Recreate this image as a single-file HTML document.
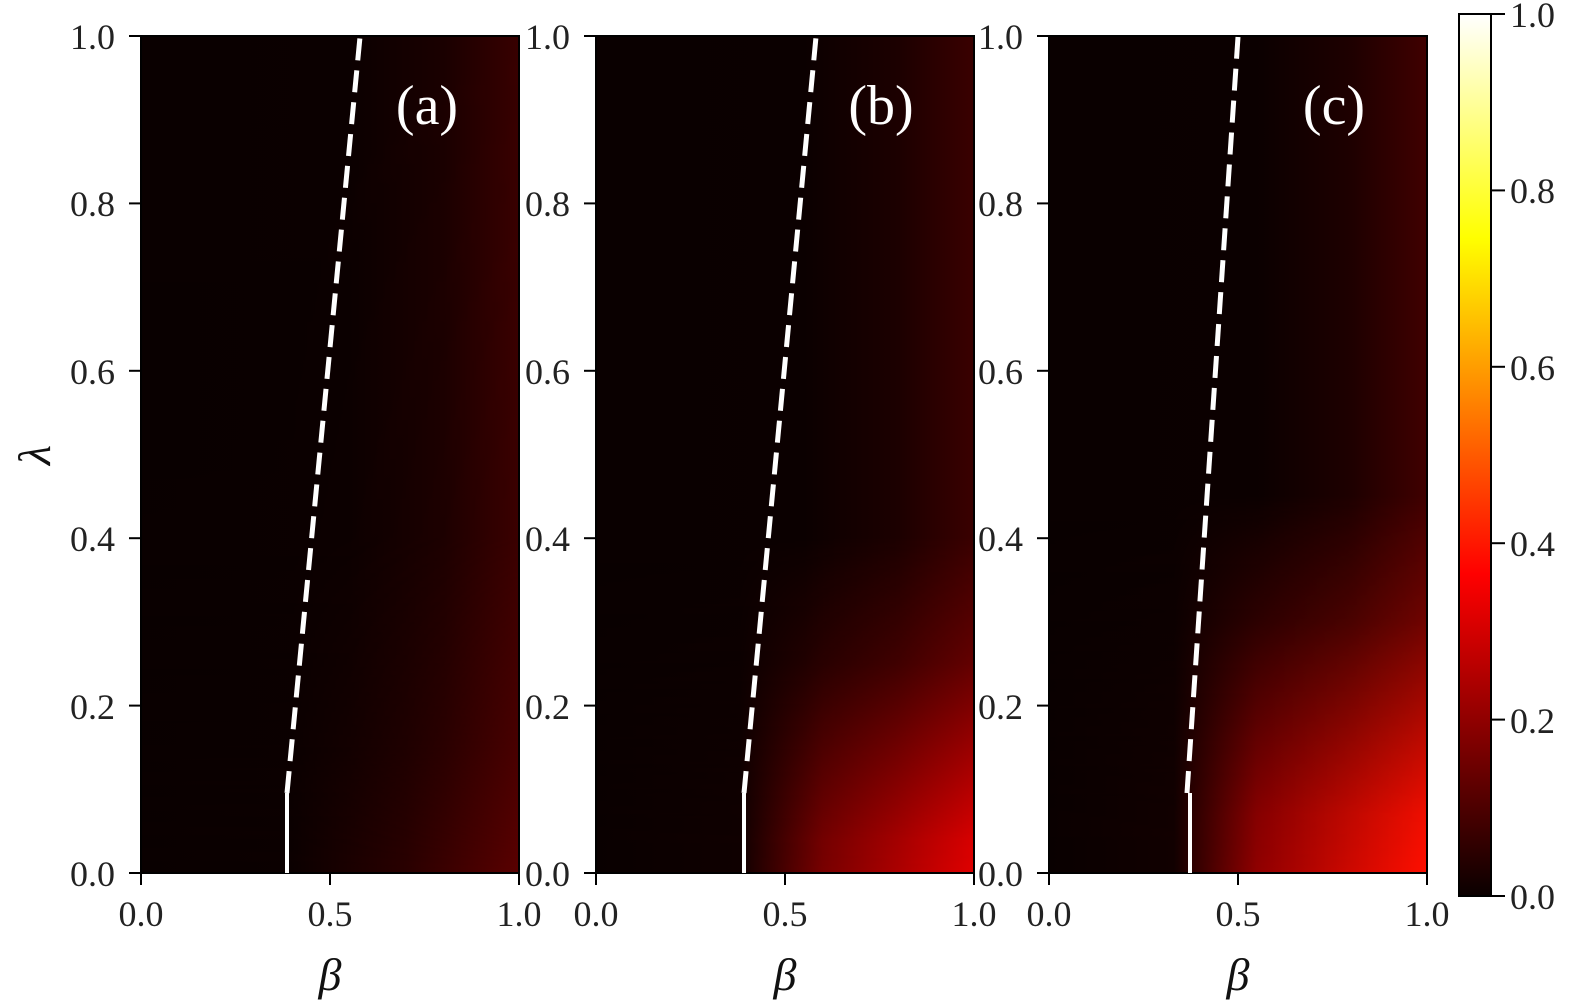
<!DOCTYPE html>
<html><head><meta charset="utf-8"><style>
html,body{margin:0;padding:0;background:#fff;}
svg{display:block;}
text{font-family:"Liberation Serif",serif;}
</style></head><body>
<svg width="1570" height="1007" viewBox="0 0 1570 1007" xmlns="http://www.w3.org/2000/svg">
<defs>
 <linearGradient id="hot" x1="0" y1="1" x2="0" y2="0">
  <stop offset="0" stop-color="#0a0000"/>
  <stop offset="0.365" stop-color="#ff0000"/>
  <stop offset="0.746" stop-color="#ffff00"/>
  <stop offset="1" stop-color="#ffffff"/>
 </linearGradient>
 <linearGradient id="vmaskA" x1="0" y1="0" x2="0" y2="1">
  <stop offset="0" stop-color="#fff"/>
  <stop offset="0.6" stop-color="#fff" stop-opacity="0.9"/>
  <stop offset="0.85" stop-color="#fff" stop-opacity="0.5"/>
  <stop offset="1" stop-color="#fff" stop-opacity="0"/>
 </linearGradient>
 <mask id="mvA" maskContentUnits="objectBoundingBox"><rect x="0" y="0" width="1" height="1" fill="url(#vmaskA)"/></mask>
 <linearGradient id="vmaskB" x1="0" y1="0" x2="0" y2="1">
  <stop offset="0" stop-color="#fff"/>
  <stop offset="0.6" stop-color="#fff"/>
  <stop offset="0.75" stop-color="#fff" stop-opacity="0.75"/>
  <stop offset="0.87" stop-color="#fff" stop-opacity="0.35"/>
  <stop offset="0.96" stop-color="#fff" stop-opacity="0.05"/>
  <stop offset="1" stop-color="#fff" stop-opacity="0"/>
 </linearGradient>
 <mask id="mvB" maskContentUnits="objectBoundingBox"><rect x="0" y="0" width="1" height="1" fill="url(#vmaskB)"/></mask>
 <linearGradient id="vmaskC" x1="0" y1="0" x2="0" y2="1">
  <stop offset="0" stop-color="#fff"/>
  <stop offset="0.55" stop-color="#fff"/>
  <stop offset="0.7" stop-color="#fff" stop-opacity="0.75"/>
  <stop offset="0.82" stop-color="#fff" stop-opacity="0.4"/>
  <stop offset="0.93" stop-color="#fff" stop-opacity="0.08"/>
  <stop offset="1" stop-color="#fff" stop-opacity="0"/>
 </linearGradient>
 <mask id="mvC" maskContentUnits="objectBoundingBox"><rect x="0" y="0" width="1" height="1" fill="url(#vmaskC)"/></mask>
 <linearGradient id="aB" x1="0" x2="1"><stop offset="0" stop-color="#0a0000"/><stop offset="0.4" stop-color="#0c0000"/><stop offset="0.7" stop-color="#2a0000"/><stop offset="1" stop-color="#5a0000"/></linearGradient>
 <linearGradient id="aT" x1="0" x2="1"><stop offset="0" stop-color="#0a0000"/><stop offset="0.55" stop-color="#0b0000"/><stop offset="0.8" stop-color="#1a0000"/><stop offset="1" stop-color="#380000"/></linearGradient>
 <linearGradient id="bB" x1="0" x2="1"><stop offset="0" stop-color="#0a0000"/><stop offset="0.38" stop-color="#100000"/><stop offset="0.6" stop-color="#780000"/><stop offset="1" stop-color="#e00000"/></linearGradient>
 <linearGradient id="bT" x1="0" x2="1"><stop offset="0" stop-color="#0a0000"/><stop offset="0.55" stop-color="#0b0000"/><stop offset="0.8" stop-color="#1c0000"/><stop offset="1" stop-color="#3a0000"/></linearGradient>
 <linearGradient id="cB" x1="0" x2="1"><stop offset="0" stop-color="#0a0000"/><stop offset="0.33" stop-color="#120000"/><stop offset="0.55" stop-color="#900000"/><stop offset="1" stop-color="#ff1000"/></linearGradient>
 <linearGradient id="cT" x1="0" x2="1"><stop offset="0" stop-color="#0a0000"/><stop offset="0.55" stop-color="#0b0000"/><stop offset="0.8" stop-color="#1e0000"/><stop offset="1" stop-color="#400000"/></linearGradient>
</defs>

<g>
 <rect x="141" y="36" width="378" height="837" fill="url(#aB)"/>
 <rect x="141" y="36" width="378" height="837" fill="url(#aT)" mask="url(#mvA)"/>
 <rect x="141" y="36" width="378" height="837" fill="none" stroke="#000" stroke-width="2"/>
 <line x1="287" y1="873" x2="287" y2="793" stroke="#fff" stroke-width="4"/>
 <polyline points="287,793 360,37" fill="none" stroke="#fff" stroke-width="5" stroke-dasharray="22,10"/>
 <text x="427" y="124" font-size="56" fill="#fff" text-anchor="middle">(a)</text>
</g>
<g>
 <rect x="596" y="36" width="378" height="837" fill="url(#bB)"/>
 <rect x="596" y="36" width="378" height="837" fill="url(#bT)" mask="url(#mvB)"/>
 <rect x="596" y="36" width="378" height="837" fill="none" stroke="#000" stroke-width="2"/>
 <line x1="744" y1="873" x2="744" y2="793" stroke="#fff" stroke-width="4"/>
 <polyline points="744,793 816,37" fill="none" stroke="#fff" stroke-width="5" stroke-dasharray="22,10"/>
 <text x="881" y="124" font-size="56" fill="#fff" text-anchor="middle">(b)</text>
</g>
<g>
 <rect x="1049" y="36" width="378" height="837" fill="url(#cB)"/>
 <rect x="1049" y="36" width="378" height="837" fill="url(#cT)" mask="url(#mvC)"/>
 <rect x="1049" y="36" width="378" height="837" fill="none" stroke="#000" stroke-width="2"/>
 <line x1="1190" y1="873" x2="1190" y2="793" stroke="#fff" stroke-width="4"/>
 <polyline points="1187,793 1238,37" fill="none" stroke="#fff" stroke-width="5" stroke-dasharray="22,10"/>
 <text x="1334" y="124" font-size="56" fill="#fff" text-anchor="middle">(c)</text>
</g>

<g stroke="#000" stroke-width="2">
 <line x1="129" y1="36" x2="141" y2="36"/><line x1="129" y1="203.4" x2="141" y2="203.4"/><line x1="129" y1="370.8" x2="141" y2="370.8"/><line x1="129" y1="538.2" x2="141" y2="538.2"/><line x1="129" y1="705.6" x2="141" y2="705.6"/><line x1="129" y1="873" x2="141" y2="873"/>
 <line x1="584" y1="36" x2="596" y2="36"/><line x1="584" y1="203.4" x2="596" y2="203.4"/><line x1="584" y1="370.8" x2="596" y2="370.8"/><line x1="584" y1="538.2" x2="596" y2="538.2"/><line x1="584" y1="705.6" x2="596" y2="705.6"/><line x1="584" y1="873" x2="596" y2="873"/>
 <line x1="1037" y1="36" x2="1049" y2="36"/><line x1="1037" y1="203.4" x2="1049" y2="203.4"/><line x1="1037" y1="370.8" x2="1049" y2="370.8"/><line x1="1037" y1="538.2" x2="1049" y2="538.2"/><line x1="1037" y1="705.6" x2="1049" y2="705.6"/><line x1="1037" y1="873" x2="1049" y2="873"/>
 <line x1="141" y1="873" x2="141" y2="885"/><line x1="330" y1="873" x2="330" y2="885"/><line x1="519" y1="873" x2="519" y2="885"/>
 <line x1="596" y1="873" x2="596" y2="885"/><line x1="785" y1="873" x2="785" y2="885"/><line x1="974" y1="873" x2="974" y2="885"/>
 <line x1="1049" y1="873" x2="1049" y2="885"/><line x1="1238" y1="873" x2="1238" y2="885"/><line x1="1427" y1="873" x2="1427" y2="885"/>
</g>
<g font-size="36" fill="#222" text-anchor="end">
 <text x="115" y="49">1.0</text><text x="115" y="216">0.8</text><text x="115" y="384">0.6</text><text x="115" y="551">0.4</text><text x="115" y="719">0.2</text><text x="115" y="886">0.0</text>
 <text x="570" y="49">1.0</text><text x="570" y="216">0.8</text><text x="570" y="384">0.6</text><text x="570" y="551">0.4</text><text x="570" y="719">0.2</text><text x="570" y="886">0.0</text>
 <text x="1023" y="49">1.0</text><text x="1023" y="216">0.8</text><text x="1023" y="384">0.6</text><text x="1023" y="551">0.4</text><text x="1023" y="719">0.2</text><text x="1023" y="886">0.0</text>
</g>
<g font-size="36" fill="#222" text-anchor="middle">
 <text x="141" y="926">0.0</text><text x="330" y="926">0.5</text><text x="519" y="926">1.0</text>
 <text x="596" y="926">0.0</text><text x="785" y="926">0.5</text><text x="974" y="926">1.0</text>
 <text x="1049" y="926">0.0</text><text x="1238" y="926">0.5</text><text x="1427" y="926">1.0</text>
</g>
<g font-size="46" font-style="italic" fill="#111" text-anchor="middle" style="font-family:'DejaVu Sans',sans-serif">
 <text x="330" y="990">β</text><text x="785" y="990">β</text><text x="1238" y="990">β</text>
 <text x="0" y="0" transform="translate(50,455) rotate(-90)">λ</text>
</g>

<rect x="1459" y="14" width="32" height="882" fill="url(#hot)" stroke="#000" stroke-width="2"/>
<g stroke="#000" stroke-width="2">
 <line x1="1491" y1="14" x2="1505" y2="14"/><line x1="1491" y1="190.4" x2="1505" y2="190.4"/><line x1="1491" y1="366.8" x2="1505" y2="366.8"/><line x1="1491" y1="543.2" x2="1505" y2="543.2"/><line x1="1491" y1="719.6" x2="1505" y2="719.6"/><line x1="1491" y1="896" x2="1505" y2="896"/>
</g>
<g font-size="36" fill="#222">
 <text x="1510" y="27">1.0</text><text x="1510" y="203">0.8</text><text x="1510" y="380">0.6</text><text x="1510" y="556">0.4</text><text x="1510" y="733">0.2</text><text x="1510" y="909">0.0</text>
</g>
</svg>
</body></html>
